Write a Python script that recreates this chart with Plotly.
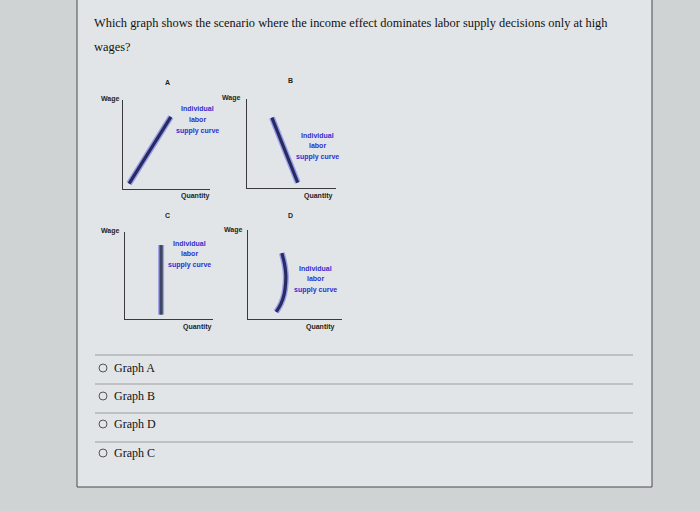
import plotly.graph_objects as go

W, H = 700, 511

# ---- data (each mini graph in its own 0-10 units) ----
a_quantity = [0.7, 5.5]
a_wage = [0.6, 8.1]
b_quantity = [2.8, 5.7]
b_wage = [7.9, 0.6]
c_quantity = [4.1, 4.1]
c_wage = [0.5, 8.5]
d_quantity = [3.6, 3.88, 4.02, 4.0, 3.85, 3.5, 3.0]
d_wage = [7.4, 6.2, 5.0, 4.0, 2.8, 1.7, 0.8]

question = ("Which graph shows the scenario where the income effect dominates labor supply "
            "decisions only at high")
question2 = "wages?"
options = ["Graph A", "Graph B", "Graph D", "Graph C"]
graph_letters = ["A", "B", "C", "D"]
curve_label_lines = ["Individual", "labor", "supply curve"]


def px(x):
    return x / W


def py(y):
    return 1 - y / H


fig = go.Figure()

# panel pixel boxes: (x0, x1, ytop, ybottom)
panels = [
    (123, 210, 100, 189),
    (247, 336, 99, 188),
    (125, 213, 232, 319),
    (248, 342, 230, 319),
]
series = [
    (a_quantity, a_wage, "#262b62", "linear"),
    (b_quantity, b_wage, "#262b62", "linear"),
    (c_quantity, c_wage, "#3c4660", "linear"),
    (d_quantity, d_wage, "#262b62", "spline"),
]

layout_axes = {}
for i, ((x0, x1, yt, yb), (xs, ys, col, shp)) in enumerate(zip(panels, series)):
    n = "" if i == 0 else str(i + 1)
    # glow
    fig.add_trace(go.Scatter(x=xs, y=ys, mode="lines", xaxis="x" + n, yaxis="y" + n,
                             line=dict(color="rgba(70,70,230,0.45)", width=6, shape=shp),
                             hoverinfo="skip", showlegend=False))
    fig.add_trace(go.Scatter(x=xs, y=ys, mode="lines", xaxis="x" + n, yaxis="y" + n,
                             line=dict(color=col, width=3.2, shape=shp),
                             showlegend=False))
    ax = dict(domain=[px(x0), px(x1)], range=[0, 10], showline=True, linecolor="#3a3a3a",
              linewidth=1, showgrid=False, zeroline=False, showticklabels=False, ticks="",
              anchor="y" + n, fixedrange=True)
    ay = dict(domain=[py(yb), py(yt)], range=[0, 10], showline=True, linecolor="#3a3a3a",
              linewidth=1, showgrid=False, zeroline=False, showticklabels=False, ticks="",
              anchor="x" + n, fixedrange=True)
    layout_axes["xaxis" + n] = ax
    layout_axes["yaxis" + n] = ay

fig.update_layout(**layout_axes)

ann = []
small = dict(family="Liberation Sans, Arial", size=7, color="#1e1e1e")
blue = dict(family="Liberation Sans, Arial", size=7, color="#2f2fd0")

# panel letters
for (lx, ly), letter in zip([(167, 82), (290, 81), (167, 215), (290, 215)], graph_letters):
    ann.append(dict(x=px(lx), y=py(ly), text="<b>%s</b>" % letter, font=small))
# Wage labels
for lx, ly in [(110, 99), (232, 98), (111, 231), (233, 230)]:
    ann.append(dict(x=px(lx), y=py(ly), text="<b>Wage</b>", font=small))
# Quantity labels
for lx, ly in [(195, 196), (318, 196), (197, 327), (320, 327)]:
    ann.append(dict(x=px(lx), y=py(ly), text="<b>Quantity</b>", font=small))
# curve labels (one annotation per line)
for lx, ly in [(197, 109), (317, 135), (190, 243), (315, 268)]:
    for k, line in enumerate(curve_label_lines):
        ann.append(dict(x=px(lx), y=py(ly + 10.8 * k), text="<b>%s</b>" % line, font=blue))

# question
serif = dict(family="Liberation Serif, Times New Roman", size=12.4, color="#111111")
ann.append(dict(x=px(92), y=py(23), text=question, font=serif, xanchor="left"))
ann.append(dict(x=px(92), y=py(47), text=question2, font=serif, xanchor="left"))

# options
opt_y = [368, 396, 424, 453]
shapes = []
# quiz box
shapes.append(dict(type="rect", xref="paper", yref="paper", x0=px(77), x1=px(652),
                   y0=py(487), y1=py(-5), fillcolor="#e2e5e7",
                   line=dict(color="#4a4a4a", width=1), layer="below"))
opt_font = dict(family="Liberation Serif, Times New Roman", size=12, color="#111111")
for y, t in zip(opt_y, options):
    ann.append(dict(x=px(112), y=py(y), text=t, font=opt_font, xanchor="left"))
    shapes.append(dict(type="circle", xref="paper", yref="paper",
                       x0=px(99), x1=px(107), y0=py(y + 4), y1=py(y - 4),
                       line=dict(color="#555", width=1)))
for y in [355, 384, 413, 442]:
    shapes.append(dict(type="line", xref="paper", yref="paper", x0=px(95), x1=px(633),
                       y0=py(y), y1=py(y), line=dict(color="#9a9c9e", width=1)))

for a in ann:
    a.update(xref="paper", yref="paper", showarrow=False, yanchor="middle")
    a.setdefault("xanchor", "center")

fig.update_layout(width=W, height=H, margin=dict(l=0, r=0, t=0, b=0),
                  paper_bgcolor="#d0d3d4", plot_bgcolor="rgba(0,0,0,0)",
                  annotations=ann, shapes=shapes, showlegend=False)

fig.write_html("out.html", config={"displayModeBar": False, "staticPlot": True},
               post_script="document.body.style.margin='0';document.body.style.overflow='hidden';")
